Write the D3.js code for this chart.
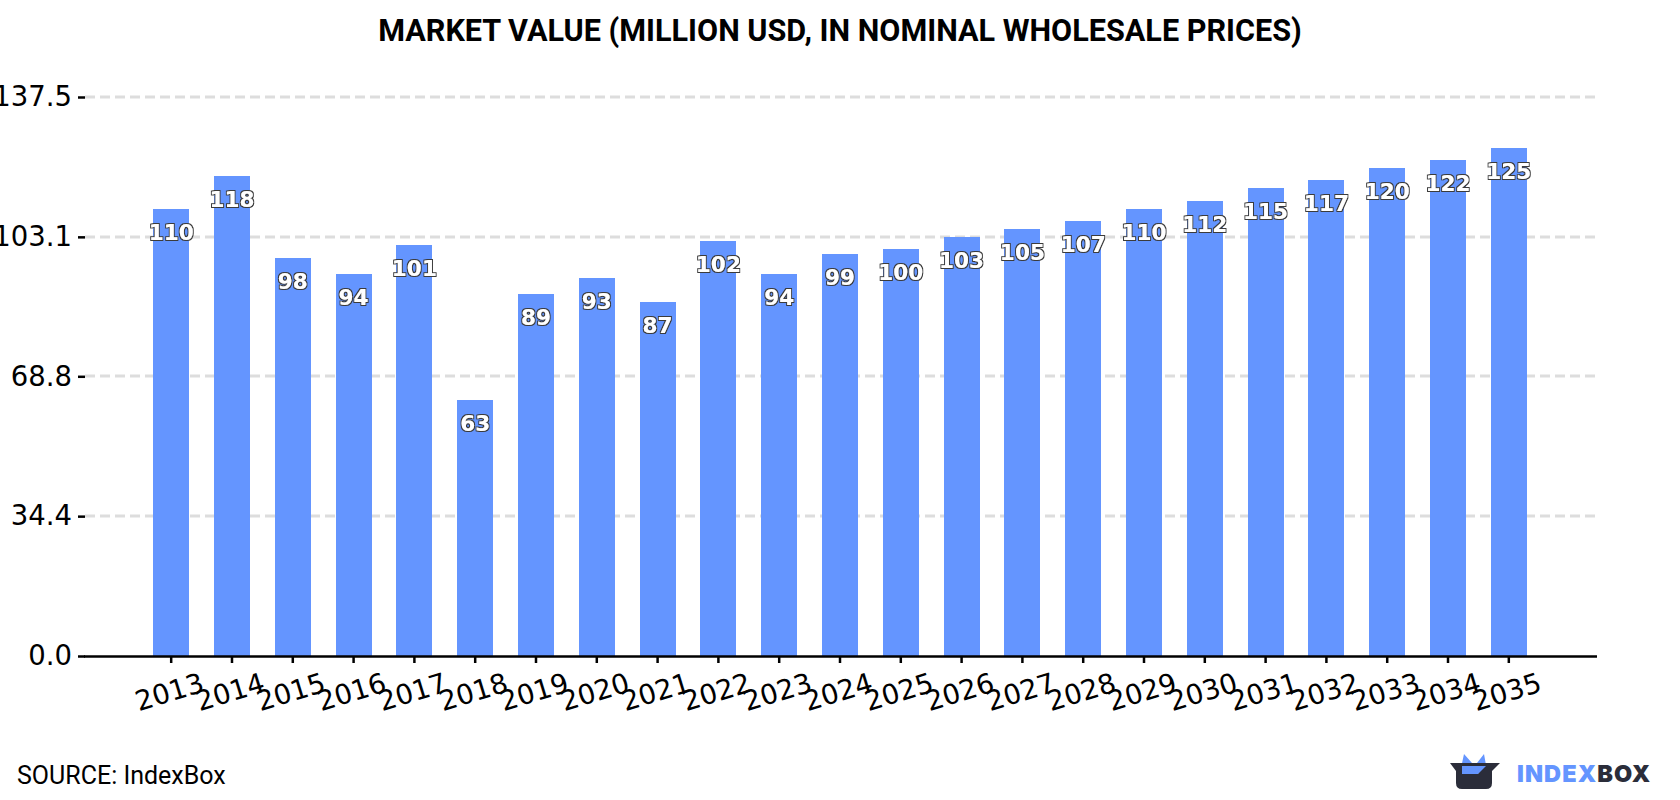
<!DOCTYPE html>
<html>
<head>
<meta charset="utf-8">
<script src="https://cdn.jsdelivr.net/npm/d3@7/dist/d3.min.js"></script>
<style>
  html, body { margin: 0; padding: 0; background: #fff; }
  svg { display: block; }
  .title { font: 700 30.6px Roboto, sans-serif; fill: #000; }
  .source { font: 400 25px Roboto, sans-serif; fill: #000; }
  .axis text { font-family: "DejaVu Sans", sans-serif; font-size: 27.5px; fill: #000; }
  .value { font: 700 21.6px "DejaVu Sans", sans-serif; fill: #fff; text-anchor: middle; filter: url(#valueOutline); }
</style>
</head>
<body>
<svg id="chart" width="1680" height="800">
  <defs>
    <!-- Thickened white digits with a thin dark rim -->
    <filter id="valueOutline" x="-20%" y="-30%" width="140%" height="160%">
      <feMorphology in="SourceAlpha" operator="dilate" radius="1.2" result="rim"/>
      <feFlood flood-color="#3a3a3a" result="rimColor"/>
      <feComposite in="rimColor" in2="rim" operator="in" result="rimFill"/>
      <feMorphology in="SourceAlpha" operator="dilate" radius="0.35" result="core"/>
      <feFlood flood-color="#ffffff" result="coreColor"/>
      <feComposite in="coreColor" in2="core" operator="in" result="coreFill"/>
      <feMerge>
        <feMergeNode in="rimFill"/>
        <feMergeNode in="coreFill"/>
      </feMerge>
    </filter>
  </defs>
</svg>
<script>
const years = ["2013","2014","2015","2016","2017","2018","2019","2020","2021","2022","2023","2024","2025","2026","2027","2028","2029","2030","2031","2032","2033","2034","2035"];
const marketValue = [110,118,98,94,101,63,89,93,87,102,94,99,100,103,105,107,110,112,115,117,120,122,125];
const yTicks = [0, 34.4, 68.8, 103.1, 137.5];
const yDomain = [0, 137.5];

const titleText = "MARKET VALUE (MILLION USD, IN NOMINAL WHOLESALE PRICES)";
const sourceText = "SOURCE: IndexBox";

const barBlue = "#6495ff";
const logoDark = "#2b2d3a";

const svg = d3.select("#chart");

const plot = { left: 84, right: 1596, top: 97, bottom: 656 };

const x = d3.scaleBand()
  .domain(years)
  .range([plot.left, plot.right])
  .paddingInner(0.408)
  .paddingOuter(1.138);

const y = d3.scaleLinear().domain(yDomain).range([plot.bottom, plot.top]);

svg.append("text").attr("class", "title")
  .attr("x", 840).attr("y", 41).attr("text-anchor", "middle").text(titleText);

// Horizontal dashed grid behind the bars
svg.append("g").selectAll("line")
  .data(yTicks.filter(d => d > 0))
  .join("line")
  .attr("x1", plot.left + 1).attr("x2", plot.right + 1)
  .attr("y1", d => Math.round(y(d))).attr("y2", d => Math.round(y(d)))
  .attr("stroke", "#dddddd").attr("stroke-width", 3)
  .attr("stroke-dasharray", "10 5");

// Bars
svg.append("g").selectAll("rect")
  .data(years.map((year, i) => ({ year, value: marketValue[i] })))
  .join("rect")
  .attr("x", d => x(d.year))
  .attr("width", x.bandwidth())
  .attr("y", d => y(d.value))
  .attr("height", d => plot.bottom - y(d.value))
  .attr("fill", barBlue)
  .attr("shape-rendering", "crispEdges");

// Y axis: ticks and numbers only
const yAxis = svg.append("g").attr("class", "axis")
  .attr("transform", `translate(${plot.left + 1},0)`)
  .call(d3.axisLeft(y).tickValues(yTicks).tickFormat(d3.format(".1f")).tickSize(7).tickPadding(6));
yAxis.select(".domain").remove();
yAxis.selectAll(".tick line").attr("stroke", "#000").attr("stroke-width", 2.5);

// X axis with slanted year labels
const xAxis = svg.append("g").attr("class", "axis")
  .attr("transform", `translate(0,${plot.bottom})`)
  .call(d3.axisBottom(x).tickSize(7).tickSizeOuter(0));
xAxis.select(".domain")
  .attr("d", `M${plot.left},0.5H${plot.right + 1}`)
  .attr("stroke", "#000").attr("stroke-width", 2.5);
xAxis.selectAll(".tick line").attr("stroke", "#000").attr("stroke-width", 2.5);
xAxis.selectAll(".tick text")
  .attr("text-anchor", "middle")
  .attr("dy", 0).attr("y", 0)
  .attr("transform", "translate(1,45) rotate(-17)");

// Value labels on the bars
svg.append("g").selectAll("text")
  .data(years.map((year, i) => ({ year, value: marketValue[i] })))
  .join("text")
  .attr("class", "value")
  .attr("x", d => x(d.year) + x.bandwidth() / 2)
  .attr("y", d => y(d.value) + 31)
  .text(d => d.value);

svg.append("text").attr("class", "source")
  .attr("x", 17).attr("y", 784).text(sourceText);

// IndexBox logo
const logo = svg.append("g").attr("transform", "translate(1420,730)");
logo.append("path").attr("fill", barBlue)
  .attr("d", "M41 38 L44 24 L52 33 L57 33 L64 24 L66 35 L72 35 L58 44 L42 44 Z");
logo.append("path").attr("fill", logoDark)
  .attr("d", "M30 33 L80 33 L72 41 L72 53 Q72 59 66 59 L42 59 Q36 59 36 53 L36 41 Z M42 44 L58 44 L66 36 L42 36 Z")
  .attr("fill-rule", "evenodd");
logo.append("text").attr("x", 97).attr("y", 52)
  .attr("font-family", "Inter, Roboto, sans-serif").attr("font-weight", 900).attr("font-size", 23.5)
  .attr("letter-spacing", 1.1)
  .call(t => {
    t.append("tspan").attr("fill", barBlue).text("INDEX");
    t.append("tspan").attr("fill", logoDark).text("BOX");
  });
</script>
</body>
</html>
